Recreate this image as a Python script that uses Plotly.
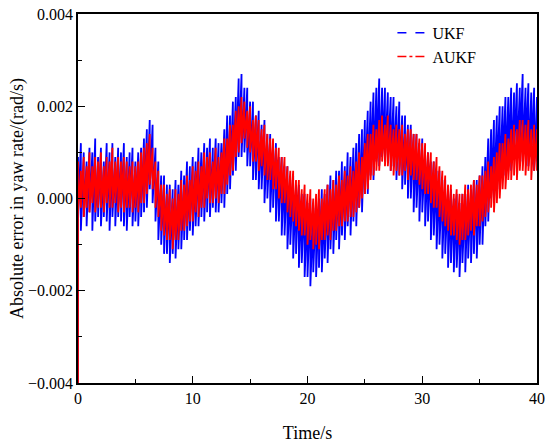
import numpy as np
import plotly.graph_objects as go

# values, in units of 1e-4 rad/s
# upper / lower extremes of each noisy trace, one pair every 0.25 s (0 ... 40 s)
scale = 1e-4
t = np.arange(0, 40.001, 0.25)

aukf_hi = [
    8, 6, 9, 7, 10, 7, 9, 8,
    10, 7, 9, 8, 11, 8, 9, 8,
    9, 8, 7, 8, 7, 8, 10, 11,
    12, 14, 11, 8, 6, 3, 3, 1,
    2, 0, 2, 1, 4, 3, 5, 4,
    7, 6, 8, 7, 10, 9, 10, 8,
    11, 9, 10, 13, 13, 16, 16, 19,
    20, 22, 21, 19, 20, 17, 18, 17,
    15, 16, 14, 13, 13, 11, 11, 9,
    9, 7, 6, 6, 4, 4, 2, 3,
    1, 2, 0, 1, 2, 0, 2, 3,
    2, 4, 3, 5, 4, 6, 5, 7,
    6, 8, 10, 9, 12, 14, 14, 16,
    15, 17, 18, 16, 18, 16, 15, 16,
    15, 16, 14, 15, 15, 14, 14, 13,
    12, 12, 10, 10, 8, 9, 7, 6,
    5, 3, 3, 1, 2, 1, 1, 3,
    2, 3, 4, 3, 5, 5, 6, 8,
    7, 9, 10, 12, 12, 14, 13, 15,
    16, 15, 17, 17, 16, 17, 15, 16,
    15,
]
aukf_lo = [
    -3, -2, -4, -2, -3, -1, -3, -2,
    -2, -3, -1, -2, -2, -1, -3, -2,
    -3, -2, -2, -3, -2, -3, -1, -1,
    1, 3, 2, -2, -4, -7, -8, -9,
    -9, -11, -9, -9, -7, -7, -6, -5,
    -5, -3, -4, -2, -2, 0, -1, -1,
    0, -1, 1, 1, 3, 5, 6, 9,
    10, 12, 13, 11, 10, 8, 8, 6,
    7, 5, 4, 4, 2, 2, 0, -1,
    -1, -3, -4, -5, -6, -7, -8, -8,
    -10, -9, -11, -10, -11, -9, -9, -8,
    -9, -7, -7, -6, -6, -5, -5, -4,
    -4, -3, -2, 0, 1, 2, 4, 5,
    6, 6, 8, 7, 7, 6, 5, 6,
    5, 5, 6, 4, 5, 4, 4, 3,
    2, 1, 1, -1, -2, -2, -4, -5,
    -6, -7, -8, -8, -9, -10, -9, -9,
    -8, -7, -8, -6, -6, -5, -4, -3,
    -2, -3, -1, 0, 2, 2, 4, 4,
    5, 4, 6, 6, 5, 6, 4, 6,
    6,
]
ukf_hi = [
    9, 12, 10, 8, 11, 10, 13, 9,
    11, 8, 12, 10, 12, 9, 11, 10,
    12, 9, 10, 11, 8, 10, 11, 13,
    15, 17, 16, 11, 8, 5, 5, 3,
    3, 2, 4, 3, 6, 5, 8, 7,
    9, 8, 11, 10, 12, 11, 13, 11,
    13, 12, 12, 15, 18, 18, 21, 22,
    26, 27, 24, 24, 21, 21, 18, 19,
    16, 17, 14, 14, 12, 12, 9, 9,
    7, 7, 4, 5, 3, 3, 1, 1,
    -1, 0, -2, 0, 0, 2, 1, 3,
    5, 4, 6, 6, 8, 7, 10, 9,
    11, 12, 14, 15, 17, 19, 21, 23,
    24, 26, 24, 24, 23, 22, 22, 20,
    21, 18, 18, 16, 16, 14, 14, 12,
    13, 10, 10, 8, 8, 6, 6, 4,
    4, 2, 2, 0, 1, -1, 1, 1,
    3, 2, 4, 4, 5, 7, 9, 13,
    15, 17, 18, 20, 20, 22, 22, 24,
    23, 25, 24, 27, 24, 25, 23, 24,
    22,
]
ukf_lo = [
    -5, -7, -4, -6, -3, -7, -5, -4,
    -6, -4, -5, -7, -4, -6, -4, -5,
    -6, -7, -4, -6, -5, -6, -4, -3,
    -2, 2, -1, -5, -9, -10, -12, -12,
    -14, -12, -13, -11, -11, -9, -9, -7,
    -8, -6, -6, -4, -5, -3, -4, -2,
    -3, -3, -1, -2, 1, 2, 5, 6,
    9, 9, 10, 7, 7, 4, 4, 2,
    2, -1, 0, -3, -2, -5, -5, -8,
    -8, -11, -10, -13, -12, -15, -14, -17,
    -17, -19, -16, -17, -15, -16, -13, -14,
    -11, -12, -9, -11, -8, -9, -6, -8,
    -5, -6, -2, -3, 1, 1, 5, 4,
    8, 7, 9, 8, 8, 6, 7, 4,
    5, 2, 3, 0, 0, -3, -2, -5,
    -3, -6, -5, -9, -8, -11, -10, -13,
    -12, -15, -14, -16, -15, -17, -14, -16,
    -13, -14, -12, -13, -10, -10, -6, -5,
    0, -1, 3, 2, 5, 5, 8, 6,
    9, 7, 10, 8, 10, 7, 9, 6,
    8,
]
# initial transient at t = 0
start_value = -40


def trace_xy(hi, lo):
    xs = [0.0]
    ys = [start_value * scale]
    for tk, h, l in zip(t, hi, lo):
        xs += [tk, tk]
        ys += [h * scale, l * scale]
    return xs, ys


FONT = "Liberation Serif, Times New Roman, serif"

fig = go.Figure()

x_u, y_u = trace_xy(ukf_hi, ukf_lo)
x_a, y_a = trace_xy(aukf_hi, aukf_lo)

fig.add_trace(go.Scatter(x=x_u, y=y_u, mode="lines", showlegend=False,
                         line=dict(color="#0000ff", width=1.8)))
fig.add_trace(go.Scatter(x=x_a, y=y_a, mode="lines", showlegend=False,
                         line=dict(color="#ff0000", width=1.8)))

# legend entries with the dash styles of the original
fig.add_trace(go.Scatter(x=[None], y=[None], mode="lines", name="UKF",
                         line=dict(color="#0000ff", width=1.5, dash="dash")))
fig.add_trace(go.Scatter(x=[None], y=[None], mode="lines", name="AUKF",
                         line=dict(color="#ff0000", width=1.5, dash="dashdot")))

axis_style = dict(
    showline=True, linecolor="black", linewidth=1.5, mirror=True,
    ticks="inside", ticklen=7, tickwidth=1.2, tickcolor="black",
    showgrid=False, zeroline=False, automargin=False,
    tickfont=dict(family=FONT, size=16, color="black"),
)

fig.update_xaxes(range=[0, 40], dtick=10,
                 minor=dict(ticks="inside", ticklen=4, dtick=5, tickcolor="black"),
                 title=dict(text="Time/s", font=dict(family=FONT, size=18, color="black"),
                            standoff=20),
                 **axis_style)
fig.update_yaxes(range=[-0.004, 0.004], dtick=0.002, tickformat=".3f",
                 minor=dict(ticks="inside", ticklen=4, dtick=0.001, tickcolor="black"),
                 title=dict(text="Absolute error in yaw rate/(rad/s)",
                            font=dict(family=FONT, size=18, color="black"),
                            standoff=0),
                 **axis_style)

fig.update_layout(
    width=550, height=443,
    margin=dict(l=78, r=13, t=14, b=60),
    font=dict(family=FONT, color="black"),
    plot_bgcolor="white", paper_bgcolor="white",
    legend=dict(x=0.685, y=0.995, xanchor="left", yanchor="top",
                bgcolor="rgba(0,0,0,0)", tracegroupgap=0,
                font=dict(family=FONT, size=16, color="black")),
)

# the page's default body margin would shift the figure by 8 px
fig.write_html("out.html", config={"displayModeBar": False},
               post_script="document.body.style.margin='0';")
